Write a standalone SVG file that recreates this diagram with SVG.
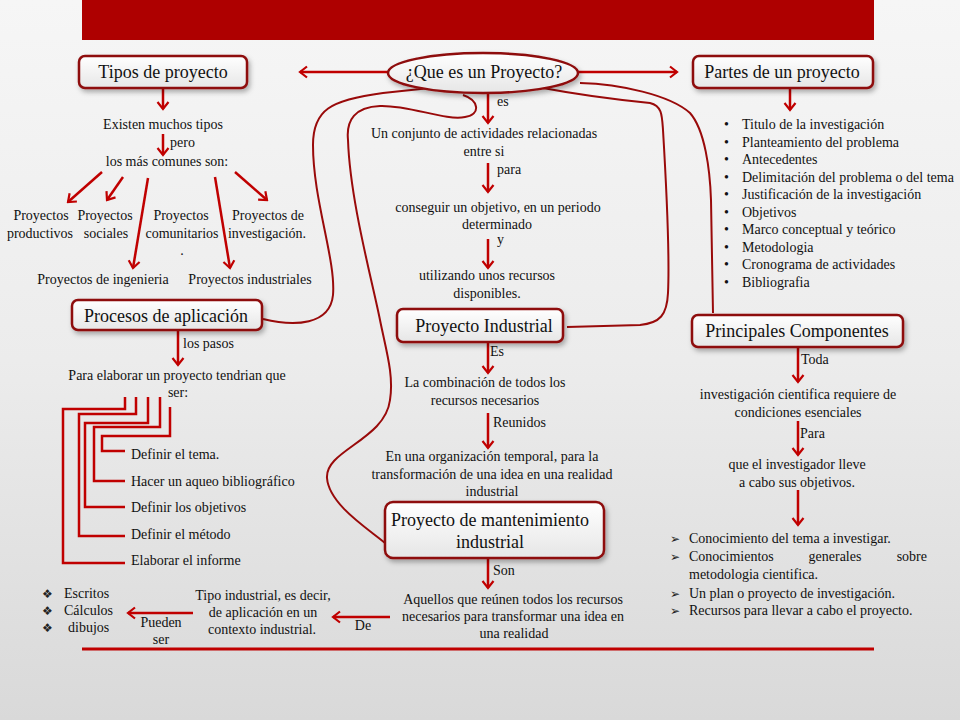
<svg xmlns="http://www.w3.org/2000/svg" width="960" height="720" viewBox="0 0 960 720">
<defs>
<linearGradient id="bg" x1="0" y1="0" x2="0" y2="1">
<stop offset="0" stop-color="#f6f6f6"/>
<stop offset="0.5" stop-color="#ececec"/>
<stop offset="1" stop-color="#d9d9d9"/>
</linearGradient>
<linearGradient id="boxg" x1="0" y1="0" x2="0" y2="1">
<stop offset="0" stop-color="#ffffff"/>
<stop offset="1" stop-color="#e6e6e6"/>
</linearGradient>
<filter id="sh" x="-10%" y="-20%" width="125%" height="160%">
<feDropShadow dx="2" dy="3" stdDeviation="2.5" flood-color="#000" flood-opacity="0.3"/>
</filter>
<marker id="ah" viewBox="-9 -7 11 14" refX="0" refY="0" markerWidth="11" markerHeight="14" markerUnits="userSpaceOnUse" orient="auto">
<path d="M-7,-5.5 L0,0 L-7,5.5" fill="none" stroke="#c00000" stroke-width="2.2"/>
</marker>
<style>
.t{font-family:'Liberation Serif','Times New Roman',serif;font-size:14px;fill:#111}
.c{text-anchor:middle}
.e{text-anchor:end}
.h{font-size:18px}
.box{fill:url(#boxg);stroke:#8e0d0d;stroke-width:2.5;filter:url(#sh)}
.arr{stroke:#c00000;stroke-width:2.5;fill:none;marker-end:url(#ah)}
.cur{stroke:#990a0a;stroke-width:2;fill:none}
.br{stroke:#c00000;stroke-width:2.5;fill:none}
.sym{font-family:'DejaVu Sans',sans-serif;font-size:12px;fill:#222}
</style>
</defs>
<rect width="960" height="720" fill="url(#bg)"/>
<rect x="82" y="0" width="792" height="40" fill="#ae0000"/>
<line x1="82" y1="649" x2="874" y2="649" stroke="#c00000" stroke-width="3"/>

<g id="connectors">
<path class="cur" d="M263,319 C295,327 330,325 333,295 C336,260 313,200 313,145 C313,110 330,100 383,93 L430,88"/>
<path class="cur" d="M463,95 C478,100 482,114 465,117 C445,121 410,105 380,106 C355,107 346,120 348,140 C350,200 372,280 380,320 C386,350 394,375 390,400 C385,440 325,450 327,478 C329,505 370,530 385,543"/>
<path class="cur" d="M543,88 C580,95 620,100 650,103 C662,106 662,115 663,130 C666,180 670,250 668,293 C667,315 660,323 640,325 L567,327"/>
<path class="cur" d="M580,83 C620,84 670,95 690,113 C705,130 710,170 711,200 L713,313"/>
<line class="arr" x1="388" y1="72" x2="300" y2="72"/>
<line class="arr" x1="578" y1="72" x2="677" y2="72"/>
<line class="arr" x1="163" y1="88" x2="163" y2="109"/>
<line class="arr" x1="163" y1="134" x2="163" y2="155"/>
<line class="arr" x1="102" y1="172" x2="68" y2="202"/>
<line class="arr" x1="123" y1="177" x2="107" y2="200"/>
<line class="arr" x1="148" y1="178" x2="133" y2="268"/>
<line class="arr" x1="215" y1="177" x2="230" y2="268"/>
<line class="arr" x1="235" y1="172" x2="267" y2="200"/>
<line class="arr" x1="790" y1="88" x2="790" y2="110"/>
<line class="arr" x1="488" y1="93" x2="488" y2="123"/>
<line class="arr" x1="488" y1="163" x2="488" y2="192"/>
<line class="arr" x1="488" y1="239" x2="488" y2="268"/>
<line class="arr" x1="488" y1="342" x2="488" y2="373"/>
<line class="arr" x1="488" y1="413" x2="488" y2="448"/>
<line class="arr" x1="488" y1="558" x2="488" y2="588"/>
<line class="arr" x1="390" y1="617" x2="333" y2="617"/>
<line class="arr" x1="193" y1="613" x2="128" y2="613"/>
<line class="arr" x1="178" y1="330" x2="178" y2="365"/>
<line class="arr" x1="798" y1="347" x2="798" y2="382"/>
<line class="arr" x1="798" y1="421" x2="798" y2="455"/>
<line class="arr" x1="798" y1="490" x2="798" y2="525"/>
<path class="br" d="M125,397 V409 H63 V563 H125"/>
<path class="br" d="M136,397 V414 H79 V536 H125"/>
<path class="br" d="M148,397 V423 H85 V507 H125"/>
<path class="br" d="M160,397 V427 H94 V481 H125"/>
<path class="br" d="M170,407 V436 H102 V451 H125"/>
<text class="t" x="497" y="106">es</text>
<text class="t" x="497" y="174">para</text>
<text class="t" x="497" y="244">y</text>
<text class="t" x="170" y="147">pero</text>
<text class="t" x="183" y="348">los pasos</text>
<text class="t" x="490" y="356">Es</text>
<text class="t" x="493" y="427">Reunidos</text>
<text class="t" x="493" y="575">Son</text>
<text class="t c" x="363" y="630">De</text>
<text class="t c" x="161" y="627">Pueden</text>
<text class="t c" x="161" y="644">ser</text>
<text class="t" x="801" y="364">Toda</text>
<text class="t" x="800" y="438">Para</text>
</g>

<g id="que-es">
<ellipse cx="483" cy="73" rx="95" ry="20" class="box"/>
<text class="t h c" x="484" y="78">¿Que es un Proyecto?</text>
</g>

<g id="tipos">
<rect x="79" y="56" width="168" height="32" rx="6" class="box"/>
<text class="t h c" x="163" y="78">Tipos de proyecto</text>
</g>

<g id="tipos-texto">
<text class="t c" x="163" y="129">Existen muchos tipos</text>
<text class="t c" x="167" y="166">los más comunes son:</text>
<text class="t c" x="41" y="220">Proyectos</text>
<text class="t c" x="40" y="238">productivos</text>
<text class="t c" x="105" y="220">Proyectos</text>
<text class="t c" x="106" y="238">sociales</text>
<text class="t c" x="181" y="220">Proyectos</text>
<text class="t c" x="182" y="238">comunitarios</text>
<text class="t c" x="182" y="255">.</text>
<text class="t c" x="268" y="220">Proyectos de</text>
<text class="t c" x="267" y="238">investigación.</text>
<text class="t c" x="103" y="284">Proyectos de ingenieria</text>
<text class="t c" x="250" y="284">Proyectos industriales</text>
</g>

<g id="procesos">
<rect x="72" y="300" width="190" height="30" rx="6" class="box"/>
<text class="t h c" x="166" y="322">Procesos de aplicación</text>
</g>

<g id="procesos-texto">
<text class="t c" x="177" y="380">Para elaborar un proyecto tendrian que</text>
<text class="t c" x="178" y="397">ser:</text>
<text class="t" x="131" y="459">Definir el tema.</text>
<text class="t" x="131" y="486">Hacer un aqueo bibliográfico</text>
<text class="t" x="131" y="512">Definir los objetivos</text>
<text class="t" x="131" y="539">Definir el método</text>
<text class="t" x="131" y="565">Elaborar el informe</text>
</g>

<g id="definicion">
<text class="t c" x="484" y="138">Un conjunto de actividades relacionadas</text>
<text class="t c" x="484" y="156">entre si</text>
<text class="t c" x="498" y="212">conseguir un objetivo,  en un periodo</text>
<text class="t c" x="497" y="229">determinado</text>
<text class="t c" x="487" y="280">utilizando  unos recursos</text>
<text class="t c" x="487" y="298">disponibles.</text>
</g>

<g id="industrial">
<rect x="397" y="309" width="166" height="33" rx="6" class="box"/>
<text class="t h c" x="484" y="332">Proyecto Industrial</text>
</g>

<g id="industrial-texto">
<text class="t c" x="485" y="387">La combinación  de todos los</text>
<text class="t c" x="485" y="405">recursos necesarios</text>
<text class="t c" x="492" y="461">En una organización  temporal, para la</text>
<text class="t c" x="492" y="479">transformación de una idea en una realidad</text>
<text class="t c" x="492" y="496">industrial</text>
</g>

<g id="mantenimiento">
<rect x="385" y="502" width="219" height="56" rx="8" class="box"/>
<text class="t h c" x="490" y="526">Proyecto de mantenimiento</text>
<text class="t h c" x="490" y="548">industrial</text>
</g>

<g id="mantenimiento-texto">
<text class="t c" x="513" y="604">Aquellos que reúnen todos los recursos</text>
<text class="t c" x="513" y="621">necesarios para transformar una idea en</text>
<text class="t c" x="514" y="638">una realidad</text>
</g>

<g id="tipo-industrial">
<text class="t c" x="263" y="600">Tipo industrial,  es decir,</text>
<text class="t c" x="263" y="617">de aplicación  en un</text>
<text class="t c" x="262" y="634">contexto industrial.</text>
</g>

<g id="formas">
<text class="sym" x="42" y="598">❖</text>
<text class="t" x="64" y="598">Escritos</text>
<text class="sym" x="42" y="615">❖</text>
<text class="t" x="64" y="615">Cálculos</text>
<text class="sym" x="42" y="632">❖</text>
<text class="t" x="68" y="632">dibujos</text>
</g>

<g id="partes">
<rect x="693" y="56" width="180" height="32" rx="6" class="box"/>
<text class="t h c" x="782" y="78">Partes de un proyecto</text>
</g>

<g id="partes-lista">
<text class="t" x="724" y="129">•</text><text class="t" x="742" y="129">Titulo de la investigación</text>
<text class="t" x="724" y="147">•</text><text class="t" x="742" y="147">Planteamiento del problema</text>
<text class="t" x="724" y="164">•</text><text class="t" x="742" y="164">Antecedentes</text>
<text class="t" x="724" y="182">•</text><text class="t" x="742" y="182">Delimitación  del problema o del tema</text>
<text class="t" x="724" y="199">•</text><text class="t" x="742" y="199">Justificación de la investigación</text>
<text class="t" x="724" y="217">•</text><text class="t" x="742" y="217">Objetivos</text>
<text class="t" x="724" y="234">•</text><text class="t" x="742" y="234">Marco conceptual y teórico</text>
<text class="t" x="724" y="252">•</text><text class="t" x="742" y="252">Metodologia</text>
<text class="t" x="724" y="269">•</text><text class="t" x="742" y="269">Cronograma de actividades</text>
<text class="t" x="724" y="287">•</text><text class="t" x="742" y="287">Bibliografia</text>
</g>

<g id="componentes">
<rect x="692" y="315" width="211" height="32" rx="6" class="box"/>
<text class="t h c" x="797" y="337">Principales  Componentes</text>
</g>

<g id="componentes-texto">
<text class="t c" x="798" y="399">investigación  cientifica requiere de</text>
<text class="t c" x="798" y="417">condiciones  esenciales</text>
<text class="t c" x="797" y="469">que el investigador  lleve</text>
<text class="t c" x="797" y="487">a cabo sus objetivos.</text>
</g>

<g id="componentes-lista">
<text class="sym" x="670" y="543">➢</text><text class="t" x="689" y="543">Conocimiento  del tema a investigar.</text>
<text class="sym" x="670" y="561">➢</text><text class="t" x="689" y="561">Conocimientos</text><text class="t c" x="835" y="561">generales</text><text class="t e" x="927" y="561">sobre</text>
<text class="t" x="689" y="579">metodologia  cientifica.</text>
<text class="sym" x="670" y="598">➢</text><text class="t" x="689" y="598">Un plan o proyecto de investigación.</text>
<text class="sym" x="670" y="615">➢</text><text class="t" x="689" y="615">Recursos para llevar a cabo el proyecto.</text>
</g>
</svg>
